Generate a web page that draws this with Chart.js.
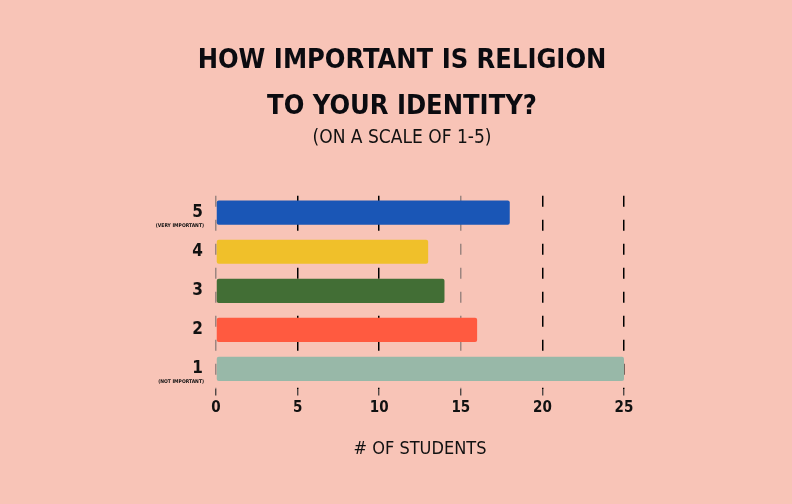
<!DOCTYPE html>
<html>
<head>
<meta charset="utf-8">
<script src="https://cdn.jsdelivr.net/npm/chart.js@4.4.1/dist/chart.umd.min.js"></script>
<style>
  html, body { margin: 0; padding: 0; background: #f8c4b7; }
  #wrap { width: 792px; height: 504px; position: relative; }
</style>
</head>
<body>
<div id="wrap"><canvas id="mycanvas" width="792" height="504"></canvas></div>
<script>
// data
var ratings = ['5', '4', '3', '2', '1'];
var ratingNotes = ['(VERY IMPORTANT)', '', '', '', '(NOT IMPORTANT)'];
var students = [18, 13, 14, 16, 25];
var barColors = ['#1a56b6', '#f0c02a', '#426e35', '#ff5a40', '#98b8a8'];
var xTicks = [0, 5, 10, 15, 20, 25];

var condensed = '"DejaVu Sans Condensed", "DejaVu Sans", sans-serif';

// small notes under the "5" and "1" labels
var notesPlugin = {
	id: 'notes',
	afterDraw: function(chart){
		var ctx = chart.ctx;
		var y = chart.scales.y;
		ctx.save();
		ctx.fillStyle = '#111';
		ctx.font = 'bold 5px ' + condensed;
		ctx.textAlign = 'right';
		ctx.textBaseline = 'middle';
		for(var i in ratingNotes){
			if(ratingNotes[i]){
				ctx.fillText(ratingNotes[i], 204, y.getPixelForValue(Number(i)) + 13);
			}
		}
		ctx.restore();
	}
};

var chartdata = {
	labels: ratings,
	datasets: [
		{
			label: 'students',
			backgroundColor: barColors,
			borderWidth: 0,
			borderRadius: 2,
			borderSkipped: false,
			barPercentage: 0.62,
			categoryPercentage: 1,
			data: students
		}
	]
};

var ctx = document.getElementById('mycanvas');
var barGraph = new Chart(ctx, {
	type: 'bar',
	data: chartdata,
	plugins: [notesPlugin],
	options: {
		indexAxis: 'y',
		responsive: false,
		animation: false,
		layout: { padding: { left: 180, right: 168, top: 37, bottom: 43.7 } },
		plugins: {
			legend: { display: false },
			tooltip: { enabled: false },
			title: {
				display: true,
				text: ['HOW IMPORTANT IS RELIGION', 'TO YOUR IDENTITY?'],
				color: '#0b0b10',
				font: { family: condensed, size: 27, weight: 'bold', lineHeight: 1.74 },
				padding: { top: 0, bottom: 0 }
			},
			subtitle: {
				display: true,
				text: '(ON A SCALE OF 1-5)',
				color: '#111',
				font: { family: condensed, size: 19, lineHeight: 0.8 },
				padding: { top: 0, bottom: 47 }
			}
		},
		scales: {
			x: {
				min: 0,
				max: 25,
				afterBuildTicks: function(axis){
					axis.ticks = xTicks.map(function(v){ return { value: v }; });
				},
				afterFit: function(axis){ axis.height = 71.8; },
				border: { display: false, dash: [11, 13], dashOffset: 21.5 },
				grid: {
					color: function(c){ return (c.tick && (c.tick.value === 0 || c.tick.value === 15)) ? '#9c8580' : '#000'; },
					lineWidth: 1.5,
					tickLength: 7,
					tickBorderDash: [],
					tickColor: '#333',
					tickWidth: 1.2
				},
				ticks: {
					color: '#111',
					padding: 4,
					font: { family: condensed, size: 15, weight: 'bold' }
				},
				title: {
					display: true,
					text: '# OF STUDENTS',
					color: '#111',
					font: { family: condensed, size: 18 },
					padding: { top: 0, bottom: 0 }
				}
			},
			y: {
				border: { display: false },
				grid: { display: false, drawTicks: false },
				afterFit: function(axis){ axis.width = 36; },
				ticks: {
					color: '#111',
					padding: 13,
					font: { family: condensed, size: 17, weight: 'bold' }
				}
			}
		}
	}
});
</script>
</body>
</html>
